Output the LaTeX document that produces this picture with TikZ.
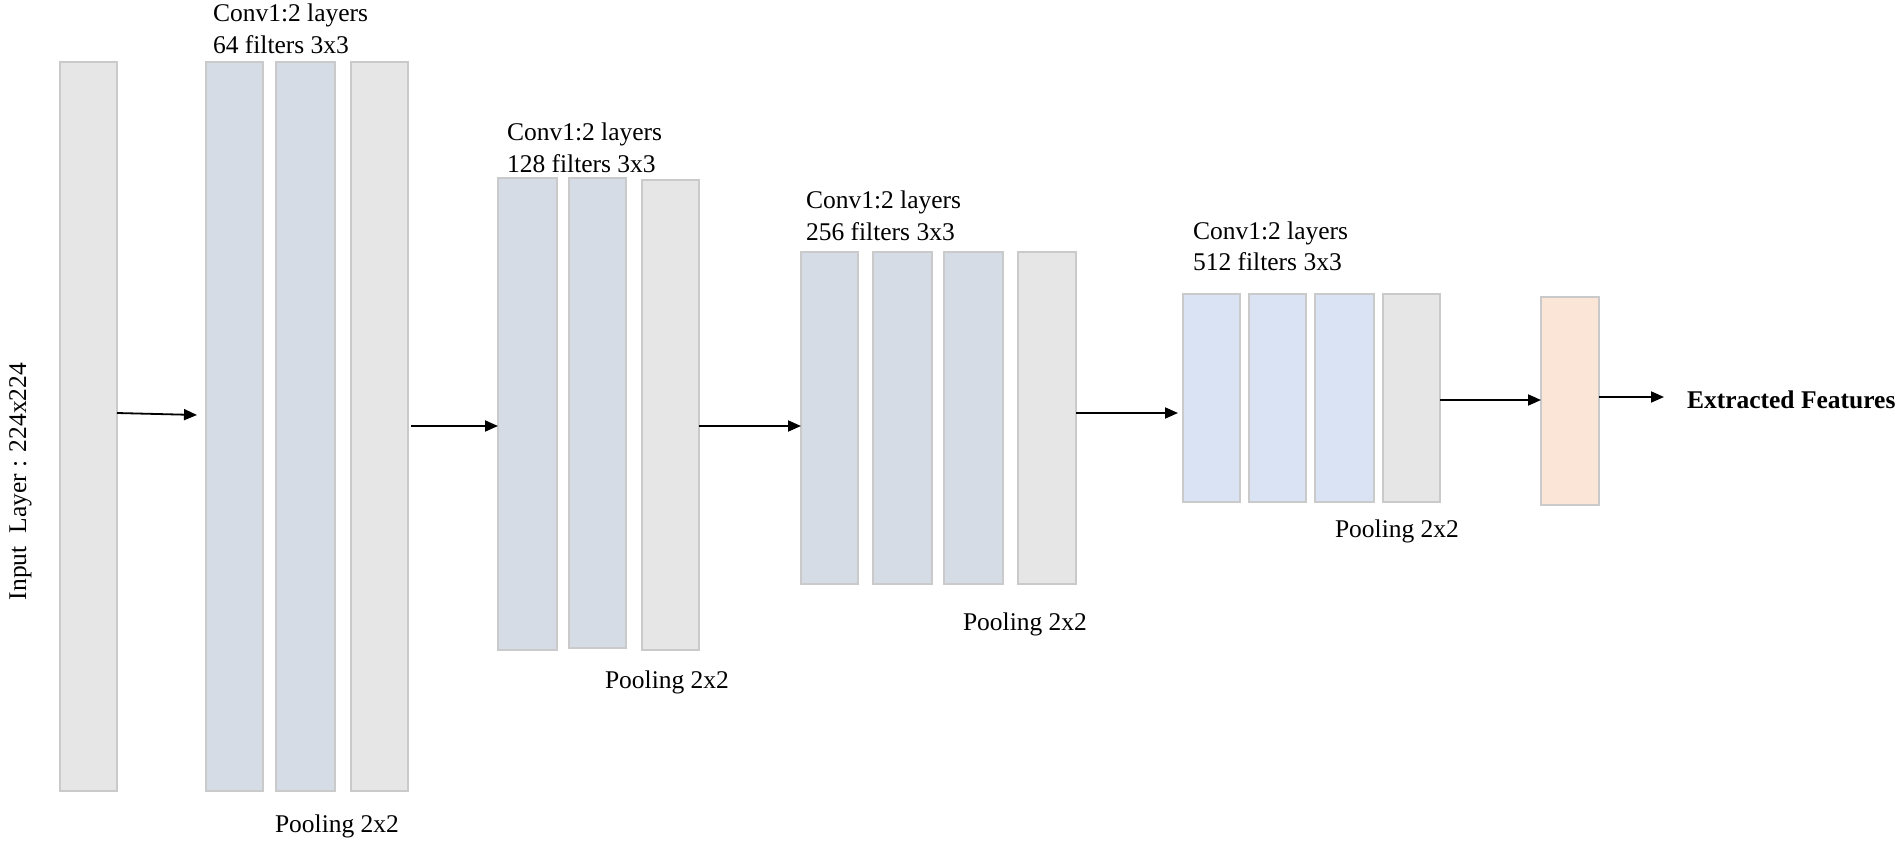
\documentclass[tikz,border=0pt]{standalone}
\usepackage{fontspec}
\setmainfont{Liberation Serif}
\usetikzlibrary{arrows.meta}
\definecolor{convc}{HTML}{D6DCE5}
\definecolor{convl}{HTML}{DAE3F3}
\definecolor{poolc}{HTML}{E7E6E6}
\definecolor{fcc}{HTML}{FBE5D6}
\definecolor{edgec}{HTML}{CACACA}
\tikzset{
  lay/.style={draw=edgec, line width=1.3pt, inner sep=0pt, outer sep=0pt, anchor=north west},
  lbl/.style={inner sep=0pt, outer sep=0pt, anchor=base west, align=left, font=\fontsize{25.5pt}{32pt}\selectfont},
  arr/.style={line width=1.8pt, -{Triangle[length=13pt,width=11pt]}}
}
\begin{document}
\begin{tikzpicture}[x=1pt,y=-1pt]
\useasboundingbox (0,0) rectangle (1900,850);
% input
\node[lay, fill=poolc, minimum width=57pt, minimum height=729pt] (inp) at (60,62) {};
% block 1
\node[lay, fill=convc, minimum width=57pt, minimum height=729pt] (c1a) at (206,62) {};
\node[lay, fill=convc, minimum width=59pt, minimum height=729pt] (c1b) at (276,62) {};
\node[lay, fill=poolc, minimum width=57pt, minimum height=729pt] (c1p) at (351,62) {};
% block 2
\node[lay, fill=convc, minimum width=59pt, minimum height=472pt] (c2a) at (498,178) {};
\node[lay, fill=convc, minimum width=57pt, minimum height=470pt] (c2b) at (569,178) {};
\node[lay, fill=poolc, minimum width=57pt, minimum height=470pt] (c2p) at (642,180) {};
% block 3
\node[lay, fill=convc, minimum width=57pt, minimum height=332pt] (c3a) at (801,252) {};
\node[lay, fill=convc, minimum width=59pt, minimum height=332pt] (c3b) at (873,252) {};
\node[lay, fill=convc, minimum width=59pt, minimum height=332pt] (c3c) at (944,252) {};
\node[lay, fill=poolc, minimum width=58pt, minimum height=332pt] (c3p) at (1018,252) {};
% block 4
\node[lay, fill=convl, minimum width=57pt, minimum height=208pt] (c4a) at (1183,294) {};
\node[lay, fill=convl, minimum width=57pt, minimum height=208pt] (c4b) at (1249,294) {};
\node[lay, fill=convl, minimum width=59pt, minimum height=208pt] (c4c) at (1315,294) {};
\node[lay, fill=poolc, minimum width=57pt, minimum height=208pt] (c4p) at (1383,294) {};
% fully connected
\node[lay, fill=fcc, minimum width=58pt, minimum height=208pt] (fc) at (1541,297) {};
% labels (anchor at baseline of the last line)
\node[lbl] (l1) at (213,54) {Conv1:2 layers\\64 filters 3x3};
\node[lbl] (l2) at (507,173) {Conv1:2 layers\\128 filters 3x3};
\node[lbl] (l3) at (806,241) {Conv1:2 layers\\256 filters 3x3};
\node[lbl] (l4) at (1193,271) {Conv1:2 layers\\512 filters 3x3};
\node[lbl] (p1) at (275,832) {Pooling 2x2};
\node[lbl] (p2) at (605,688) {Pooling 2x2};
\node[lbl] (p3) at (963,630) {Pooling 2x2};
\node[lbl] (p4) at (1335,537) {Pooling 2x2};
\node[lbl, font=\fontsize{25.5pt}{32pt}\selectfont\bfseries] (out) at (1687,408) {Extracted Features};
\node[lbl, rotate=90] (inl) at (26,600) {Input\ \ Layer : 224x224};
% arrows
\draw[arr] (inp.east |- 0,413) -- ([xshift=-9pt]c1a.west |- 0,415);
\draw[arr] ([xshift=3pt]c1p.east |- 0,426) -- (c2a.west |- 0,426);
\draw[arr] (c2p.east |- 0,426) -- (c3a.west |- 0,426);
\draw[arr] (c3p.east |- 0,413) -- ([xshift=-5pt]c4a.west |- 0,413);
\draw[arr] (c4p.east |- 0,400) -- (fc.west |- 0,400);
\draw[arr] (fc.east |- 0,397) -- ([xshift=-23pt]out.west |- 0,397);
\end{tikzpicture}
\end{document}
